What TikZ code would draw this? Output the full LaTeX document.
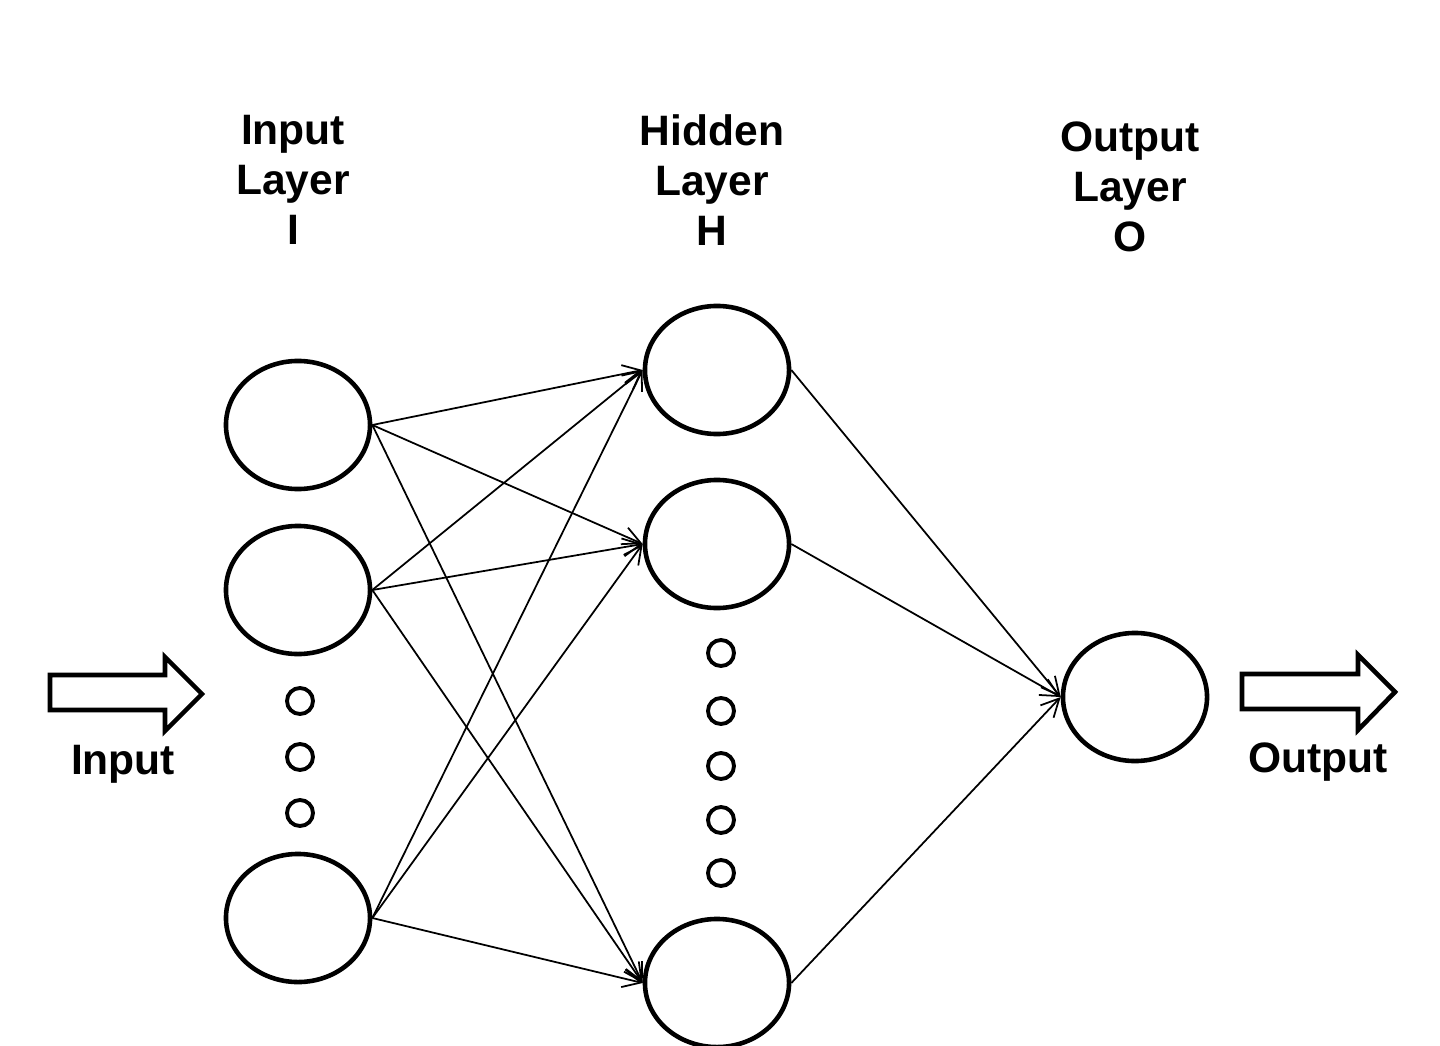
\documentclass[tikz,border=0pt]{standalone}
\usepackage{fontspec}
\setmainfont{Liberation Sans}
\usetikzlibrary{arrows.meta,shapes.geometric}
\tikzset{
>={Straight Barb[length=1.8mm,width=1.8mm]},
	neuron/.style={
		ellipse,
		draw=black, line width=1.3pt,
		fill=white,
		minimum width=1.44cm,
		minimum height=1.28cm,
		inner sep=0pt},
	smalldot/.style={
		circle,
		draw=black, line width=1.1pt,
		minimum size=0.26cm,
		inner sep=0pt},
	layertext/.style={
		align=center,
		font=\fontsize{12.1}{14.2}\selectfont\bfseries},
	link/.style={->, line width=0.5pt},
	blockarrow/.style={draw=black, line width=1.3pt, fill=white}
}

\begin{document}
\begin{tikzpicture}[x=0.01cm, y=-0.01cm]
\useasboundingbox (0,0) rectangle (1440,1046);
% layer titles
\node[layertext] (titlein) at (293,180) {Input\\Layer\\I};
\node[layertext] (titlehid) at (712,180) {Hidden\\Layer\\H};
\node[layertext] (titleout) at (1130,187) {Output\\Layer\\O};
% input layer
\node[neuron] (in1) at (298,425) {};
\node[neuron] (in2) at (298,590) {};
\node[neuron] (in3) at (298,918) {};
\node[smalldot] (indot1) at (300,701) {};
\node[smalldot] (indot2) at (300,757) {};
\node[smalldot] (indot3) at (300,813) {};
% hidden layer
\node[neuron] (hid1) at (717,370) {};
\node[neuron] (hid2) at (717,544) {};
\node[neuron] (hid3) at (717,983) {};
\node[smalldot] (hiddot1) at (721,653) {};
\node[smalldot] (hiddot2) at (721,711) {};
\node[smalldot] (hiddot3) at (721,766) {};
\node[smalldot] (hiddot4) at (721,820) {};
\node[smalldot] (hiddot5) at (721,873) {};
% output layer
\node[neuron] (out) at (1135,697) {};
% weights
\draw[link] (in1.east) -- (hid1.west);
\draw[link] (in1.east) -- (hid2.west);
\draw[link] (in1.east) -- (hid3.west);
\draw[link] (in2.east) -- (hid1.west);
\draw[link] (in2.east) -- (hid2.west);
\draw[link] (in2.east) -- (hid3.west);
\draw[link] (in3.east) -- (hid1.west);
\draw[link] (in3.east) -- (hid2.west);
\draw[link] (in3.east) -- (hid3.west);
\draw[link] (hid1.east) -- (out.west);
\draw[link] (hid2.east) -- (out.west);
\draw[link] (hid3.east) -- (out.west);
% input and output arrows
\draw[blockarrow] (50,675) -- (165,675) -- (165,657) -- (202,694) -- (165,731) -- (165,710) -- (50,710) -- cycle;
\node[layertext] (inputtext) at (123,764) {Input};
\draw[blockarrow] (1242,674) -- (1358,674) -- (1358,655) -- (1395,692) -- (1358,730) -- (1358,709) -- (1242,709) -- cycle;
\node[layertext] (outputtext) at (1318,762) {Output};
\end{tikzpicture}
\end{document}
